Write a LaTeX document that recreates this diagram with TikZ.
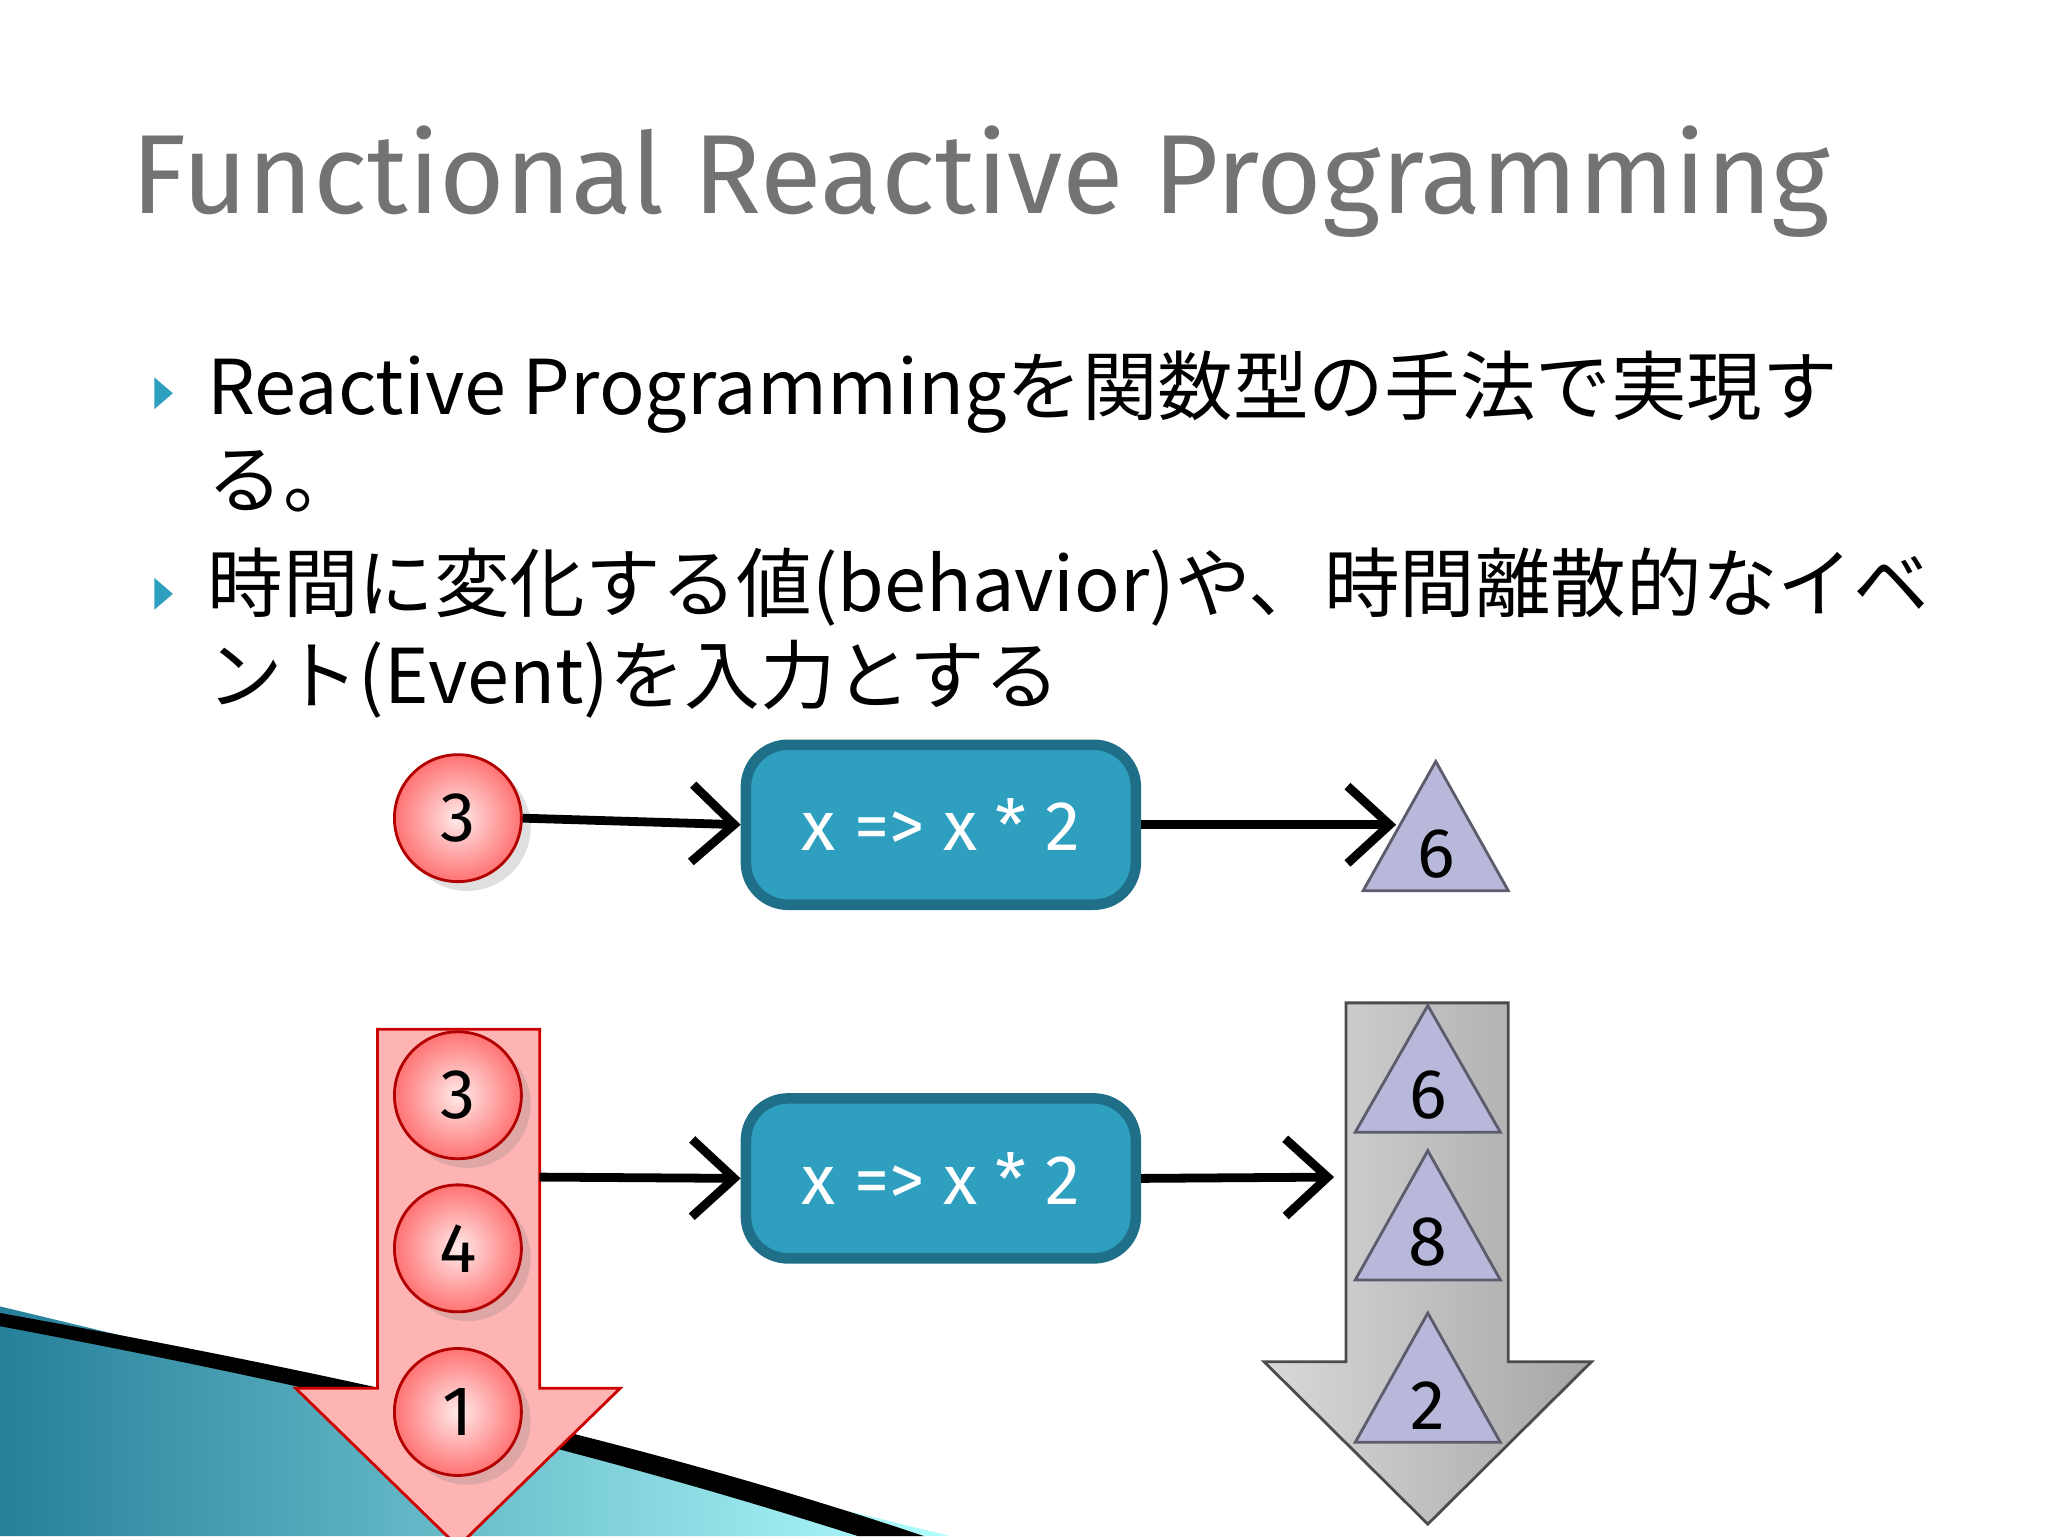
\documentclass[tikz,border=0pt]{standalone}
\usepackage{fontspec}
\setmainfont{Fira Sans}
\newfontfamily\cjk{Noto Sans CJK JP}
\usetikzlibrary{arrows.meta,shadows}
\definecolor{boxteal}{HTML}{2E9FBF}
\definecolor{boxedge}{HTML}{1F6F88}
\definecolor{tri}{HTML}{B8B8DA}
\definecolor{pinkf}{HTML}{FFB4B4}
\tikzset{
 flow/.style={line width=2.5pt,-{Straight Barb[length=12pt,width=22pt,line width=2.5pt]}},
 fbox/.style={draw=boxedge,line width=3pt,fill=boxteal,rounded corners=12pt,text=white,font=\fontsize{20}{22}\selectfont},
 ball/.style={circle,draw=red!70!black,line width=0.8pt,inner sep=0pt,minimum size=1.27cm,inner color=red!8,outer color=red!55,drop shadow={opacity=0.25},font=\fontsize{20}{22}\selectfont},
 trif/.style={draw=tri!50!black,fill=tri,line width=0.8pt},
 lbl/.style={font=\fontsize{20}{22}\selectfont},
 bullet/.style={fill=boxteal},
 btext/.style={anchor=west,font=\fontsize{21.5}{24}\selectfont\cjk},
}
\begin{document}
\begin{tikzpicture}[x=0.0132cm,y=-0.0132cm]
\useasboundingbox (0,0) rectangle (1552,1164);
\fill[white] (0,0) rectangle (1552,1164);
% decorative swoosh
\shade[left color=boxteal!80!black,right color=cyan!30] (0,990) .. controls (250,1050) and (500,1110) .. (720,1164) -- (0,1164) -- cycle;
\fill[black] (0,995) .. controls (250,1040) and (480,1090) .. (700,1164) -- (650,1164) .. controls (450,1100) and (250,1052) .. (0,1005) -- cycle;
% title
\node[text=black!55,font=\fontsize{32}{34}\selectfont,anchor=west] (title) at (90,138) {Functional Reactive Programming};
% bullets
\fill[bullet] (117,286) -- (131,298) -- (117,310) -- cycle;
\fill[bullet] (117,438) -- (131,450) -- (117,462) -- cycle;
\node[btext] (b1) at (148,297) {Reactive Programmingを関数型の手法で実現す};
\node[btext] (b1b) at (148,365) {る。};
\node[btext] (b2) at (148,445) {時間に変化する値(behavior)や、時間離散的なイベ};
\node[btext] (b2b) at (148,515) {ント(Event)を入力とする};
% top row
\node[ball] (c1) at (347,620) {3};
\node[fbox,minimum width=3.9cm,minimum height=1.6cm] (f1) at (713,625) {x => x * 2};
\draw[trif] (1088,577) -- (1143,675) -- (1033,675) -- cycle;
\node[lbl] (t1) at (1088,647) {6};
\coordinate (t1in) at (1058,625);
\draw[flow] (c1.east) -- (f1.west);
\draw[flow] (f1.east) -- (t1in);
% bottom red arrow
\draw[fill=pinkf,draw=red!80!black,line width=0.8pt] (286,780) -- (409,780) -- (409,1052) -- (470,1052) -- (347,1172) -- (224,1052) -- (286,1052) -- cycle;
\node[ball] (c2) at (347,830) {3};
\node[ball] (c3) at (347,946) {4};
\node[ball] (c4) at (347,1070) {1};
\coordinate (rin) at (409,892);
\node[fbox,minimum width=3.9cm,minimum height=1.6cm] (f2) at (713,893) {x => x * 2};
% grey arrow
\shade[left color=black!15,right color=black!35] (1020,760) -- (1143,760) -- (1143,1032) -- (1206,1032) -- (1082,1155) -- (958,1032) -- (1020,1032) -- cycle;
\draw[black!70,line width=0.8pt] (1020,760) -- (1143,760) -- (1143,1032) -- (1206,1032) -- (1082,1155) -- (958,1032) -- (1020,1032) -- cycle;
\draw[trif] (1082,762) -- (1137,858) -- (1027,858) -- cycle;
\draw[trif] (1082,872) -- (1137,970) -- (1027,970) -- cycle;
\draw[trif] (1082,995) -- (1137,1093) -- (1027,1093) -- cycle;
\node[lbl] (t2) at (1082,830) {6};
\node[lbl] (t3) at (1082,941) {8};
\node[lbl] (t4) at (1082,1065) {2};
\coordinate (gin) at (1011,892);
\draw[flow] (rin) -- (f2.west);
\draw[flow] (f2.east) -- (gin);
\end{tikzpicture}
\end{document}
